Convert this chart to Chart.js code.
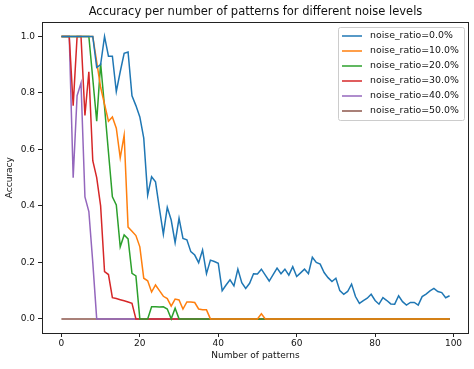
<!DOCTYPE html>
<html>
<head>
<meta charset="utf-8">
<script src="https://cdn.jsdelivr.net/npm/chart.js@4.4.1/dist/chart.umd.min.js"></script>
<style>
  body { margin: 0; background: #fff; }
  #wrap { width: 474px; height: 369px; }
</style>
</head>
<body>
<div id="wrap"><canvas id="accChart"></canvas></div>
<script>
const patterns = [
  0, 1, 2, 3, 4, 5, 6, 7, 8, 9, 10, 11, 12, 13, 14, 15, 16, 17, 18, 19,
  20, 21, 22, 23, 24, 25, 26, 27, 28, 29, 30, 31, 32, 33, 34, 35, 36, 37, 38, 39,
  40, 41, 42, 43, 44, 45, 46, 47, 48, 49, 50, 51, 52, 53, 54, 55, 56, 57, 58, 59,
  60, 61, 62, 63, 64, 65, 66, 67, 68, 69, 70, 71, 72, 73, 74, 75, 76, 77, 78, 79,
  80, 81, 82, 83, 84, 85, 86, 87, 88, 89, 90, 91, 92, 93, 94, 95, 96, 97, 98, 99
];

const noiseLabels = ['noise_ratio=0.0%', 'noise_ratio=10.0%', 'noise_ratio=20.0%',
  'noise_ratio=30.0%', 'noise_ratio=40.0%', 'noise_ratio=50.0%'];

const acc00 = [
  1, 1, 1, 1, 1, 1, 1, 1, 1, 0.89,
  0.90, 1.0, 0.93, 0.93, 0.805, 0.875, 0.94, 0.945, 0.79, 0.755,
  0.715, 0.64, 0.438, 0.503, 0.485, 0.39, 0.30, 0.395, 0.35, 0.27,
  0.356, 0.285, 0.28, 0.238, 0.226, 0.199, 0.244, 0.16, 0.208, 0.203,
  0.197, 0.10, 0.12, 0.138, 0.117, 0.176, 0.128, 0.108, 0.126, 0.16,
  0.159, 0.176, 0.155, 0.134, 0.157, 0.18, 0.16, 0.176, 0.155, 0.185,
  0.15, 0.163, 0.176, 0.16, 0.218, 0.2, 0.194, 0.164, 0.146, 0.132,
  0.144, 0.10, 0.087, 0.097, 0.123, 0.079, 0.055, 0.065, 0.073, 0.087,
  0.065, 0.052, 0.075, 0.065, 0.053, 0.052, 0.082, 0.061, 0.049, 0.058,
  0.058, 0.049, 0.079, 0.088, 0.099, 0.108, 0.097, 0.093, 0.075, 0.082
];
const acc10 = [
  1, 1, 1, 1, 1, 1, 1, 1, 1, 0.91,
  0.82, 0.76, 0.70, 0.715, 0.675, 0.57, 0.65, 0.325, 0.31, 0.295,
  0.255, 0.144, 0.135, 0.095, 0.12, 0.10, 0.08, 0.072, 0.045, 0.07,
  0.067, 0.035, 0.06, 0.06, 0.058, 0.035, 0.032, 0.032, 0, 0,
  0, 0, 0, 0, 0, 0, 0, 0, 0, 0,
  0, 0.018, 0, 0, 0, 0, 0, 0, 0, 0,
  0, 0, 0, 0, 0, 0, 0, 0, 0, 0,
  0, 0, 0, 0, 0, 0, 0, 0, 0, 0,
  0, 0, 0, 0, 0, 0, 0, 0, 0, 0,
  0, 0, 0, 0, 0, 0, 0, 0, 0, 0
];
const acc20 = [
  1, 1, 1, 1, 1, 1, 1, 1, 0.85, 0.70,
  0.905, 0.75, 0.59, 0.432, 0.403, 0.255, 0.297, 0.283, 0.161, 0.152,
  0, 0, 0, 0.043, 0.043, 0.042, 0.043, 0.035, 0, 0.038,
  0, 0, 0, 0, 0, 0, 0, 0, 0, 0,
  0, 0, 0, 0, 0, 0, 0, 0, 0, 0,
  0, 0, 0, 0, 0, 0, 0, 0, 0, 0,
  0, 0, 0, 0, 0, 0, 0, 0, 0, 0,
  0, 0, 0, 0, 0, 0, 0, 0, 0, 0,
  0, 0, 0, 0, 0, 0, 0, 0, 0, 0,
  0, 0, 0, 0, 0, 0, 0, 0, 0, 0
];
const acc30 = [
  1, 1, 1, 0.755, 1, 1, 0.72, 0.875, 0.56, 0.50,
  0.40, 0.167, 0.157, 0.075, 0.072, 0.068, 0.064, 0.06, 0.055, 0,
  0, 0, 0, 0, 0, 0, 0, 0, 0, 0,
  0, 0, 0, 0, 0, 0, 0, 0, 0, 0,
  0, 0, 0, 0, 0, 0, 0, 0, 0, 0,
  0, 0, 0, 0, 0, 0, 0, 0, 0, 0,
  0, 0, 0, 0, 0, 0, 0, 0, 0, 0,
  0, 0, 0, 0, 0, 0, 0, 0, 0, 0,
  0, 0, 0, 0, 0, 0, 0, 0, 0, 0,
  0, 0, 0, 0, 0, 0, 0, 0, 0, 0
];
const acc40 = [
  1, 1, 1, 0.50, 0.79, 0.835, 0.432, 0.38, 0.2, 0,
  0, 0, 0, 0, 0, 0, 0, 0, 0, 0,
  0, 0, 0, 0, 0, 0, 0, 0, 0, 0,
  0, 0, 0, 0, 0, 0, 0, 0, 0, 0,
  0, 0, 0, 0, 0, 0, 0, 0, 0, 0,
  0, 0, 0, 0, 0, 0, 0, 0, 0, 0,
  0, 0, 0, 0, 0, 0, 0, 0, 0, 0,
  0, 0, 0, 0, 0, 0, 0, 0, 0, 0,
  0, 0, 0, 0, 0, 0, 0, 0, 0, 0,
  0, 0, 0, 0, 0, 0, 0, 0, 0, 0
];
const acc50 = [
  0, 0, 0, 0, 0, 0, 0, 0, 0, 0,
  0, 0, 0, 0, 0, 0, 0, 0, 0, 0,
  0, 0, 0, 0, 0, 0, 0, 0, 0, 0,
  0, 0, 0, 0, 0, 0, 0, 0, 0, 0,
  0, 0, 0, 0, 0, 0, 0, 0, 0, 0,
  0, 0, 0, 0, 0, 0, 0, 0, 0, 0,
  0, 0, 0, 0, 0, 0, 0, 0, 0, 0,
  0, 0, 0, 0, 0, 0, 0, 0, 0, 0,
  0, 0, 0, 0, 0, 0, 0, 0, 0, 0,
  0, 0, 0, 0, 0, 0, 0, 0, 0, 0
];

const xTicks = [0, 20, 40, 60, 80, 100];
const yTicks = [0.0, 0.2, 0.4, 0.6, 0.8, 1.0];

const colors = ['#1f77b4', '#ff7f0e', '#2ca02c', '#d62728', '#9467bd', '#8c564b'];
const series = [acc00, acc10, acc20, acc30, acc40, acc50];
const font = { family: '"DejaVu Sans", sans-serif', size: 9 };
const ink = '#111';

// frame around the axes + matplotlib-style legend in the upper right
const frameAndLegend = {
  id: 'frameAndLegend',
  afterDatasetsDraw(chart) {
    const c = chart.ctx;
    const a = chart.chartArea;
    c.save();
    c.strokeStyle = '#222';
    c.lineWidth = 1;
    c.strokeRect(Math.round(a.left) + 0.5, Math.round(a.top) + 0.5,
      Math.round(a.right - a.left) - 1, Math.round(a.bottom - a.top));

    c.font = '9.4px "DejaVu Sans", sans-serif';
    const sets = chart.data.datasets;
    let textW = 0;
    sets.forEach(d => { textW = Math.max(textW, c.measureText(d.label).width); });
    const w = Math.round(textW + 37);
    const h = 93;
    const x = Math.round(a.right - 5 - w);
    const y = Math.round(a.top + 5);
    c.fillStyle = 'rgba(255,255,255,0.85)';
    c.strokeStyle = '#ccc';
    c.beginPath();
    if (c.roundRect) c.roundRect(x + 0.5, y + 0.5, w, h, 2);
    else c.rect(x + 0.5, y + 0.5, w, h);
    c.fill();
    c.stroke();
    sets.forEach((d, i) => {
      const ry = y + 9 + 15 * i;
      c.strokeStyle = d.borderColor;
      c.lineWidth = 1.5;
      c.beginPath();
      c.moveTo(x + 4, ry);
      c.lineTo(x + 24, ry);
      c.stroke();
      c.fillStyle = ink;
      c.textBaseline = 'middle';
      c.textAlign = 'left';
      c.fillText(d.label, x + 32, ry);
    });
    c.restore();
  }
};

const ctx = document.getElementById('accChart').getContext('2d');

const accChart = new Chart(ctx, {
  type: 'line',
  data: {
    datasets: series.map((vals, k) => ({
      label: noiseLabels[k],
      data: vals.map((v, i) => ({ x: patterns[i], y: v })),
      borderColor: colors[k],
      backgroundColor: colors[k],
      borderWidth: 1.5,
      pointRadius: 0,
      tension: 0,
      fill: false
    }))
  },
  options: {
    responsive: true,
    maintainAspectRatio: false,
    animation: false,
    devicePixelRatio: 1,
    layout: { padding: { top: 0, right: 5, bottom: 4, left: 0 } },
    plugins: {
      legend: { display: false },
      tooltip: { enabled: false },
      title: {
        display: true,
        text: 'Accuracy per number of patterns for different noise levels',
        fullSize: false,
        color: ink,
        font: { family: '"DejaVu Sans", sans-serif', size: 11.5, weight: 'normal' },
        padding: { top: 5.5, bottom: 3 }
      }
    },
    scales: {
      x: {
        type: 'linear',
        min: -4.95,
        max: 103.95,
        afterBuildTicks: s => { s.ticks = xTicks.map(v => ({ value: v })); },
        afterFit: s => { s.height = 32; },
        ticks: { color: ink, font: font, padding: 1, maxRotation: 0 },
        grid: { drawOnChartArea: false, drawTicks: true, tickLength: 4, color: '#222' },
        border: { display: false },
        title: { display: true, text: 'Number of patterns', color: ink, font: font, padding: { top: 2, bottom: 4 } }
      },
      y: {
        min: -0.05,
        max: 1.05,
        afterBuildTicks: s => { s.ticks = yTicks.map(v => ({ value: v })); },
        afterFit: s => { s.width = 42; },
        ticks: { color: ink, font: font, padding: 3, callback: v => Number(v).toFixed(1) },
        grid: { drawOnChartArea: false, drawTicks: true, tickLength: 4, color: '#222' },
        border: { display: false },
        title: { display: true, text: 'Accuracy', color: ink, font: font, padding: { top: 4, bottom: 4 } }
      }
    }
  },
  plugins: [frameAndLegend]
});
</script>
</body>
</html>
